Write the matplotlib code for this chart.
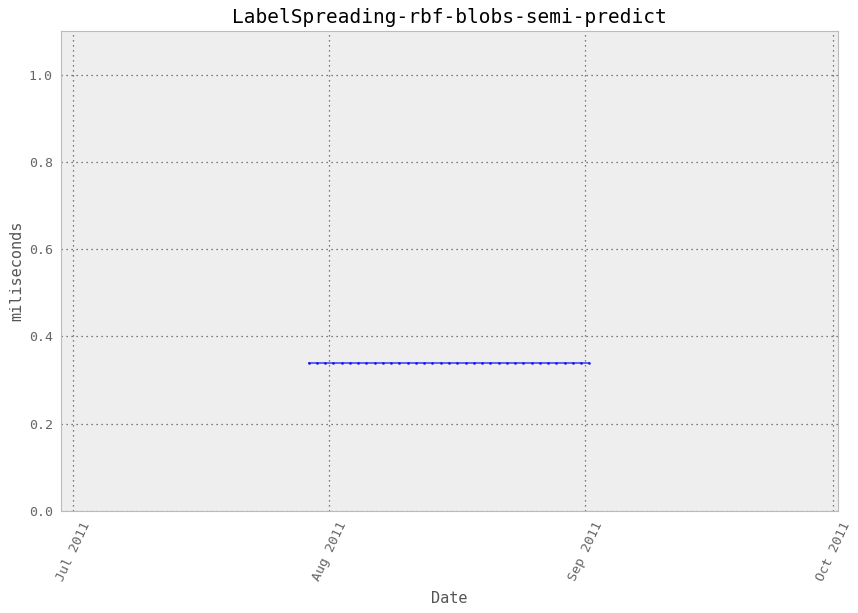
import datetime as dt

import matplotlib
matplotlib.use("Agg")
import matplotlib.pyplot as plt
import matplotlib.dates as mdates

# data: one timing per day
start_day = dt.datetime(2011, 7, 29, 12)
n_days = 35
dates = [start_day + dt.timedelta(days=i) for i in range(n_days)]
timings = [0.34, 0.34, 0.34, 0.34, 0.34, 0.34, 0.34, 0.34, 0.34, 0.34,
           0.34, 0.34, 0.34, 0.34, 0.34, 0.34, 0.34, 0.34, 0.34, 0.34,
           0.34, 0.34, 0.34, 0.34, 0.34, 0.34, 0.34, 0.34, 0.34, 0.34,
           0.34, 0.34, 0.34, 0.34, 0.34]

title = "LabelSpreading-rbf-blobs-semi-predict"

plt.rcParams["font.family"] = ["DejaVu Sans Mono"]

fig = plt.figure(figsize=(8.58, 6.13), dpi=100)
ax = fig.add_axes([61 / 858, 1 - 511 / 613, 777 / 858, 480 / 613])
ax.set_facecolor("#eeeeee")

ax.plot(dates, timings, color="blue", linewidth=1.2, marker=".",
        markersize=2, alpha=0.7)

ax.set_ylim(0, 1.1)
ax.set_xlim(dt.datetime(2011, 6, 29, 13), dt.datetime(2011, 10, 1, 14))
ax.xaxis.set_major_locator(mdates.MonthLocator())
ax.xaxis.set_major_formatter(mdates.DateFormatter("%b %Y"))
ax.set_yticks([0.0, 0.2, 0.4, 0.6, 0.8, 1.0])

ax.grid(True, color="#555555", linestyle=(0, (1, 3)), linewidth=0.9)
ax.set_axisbelow(True)
for s in ax.spines.values():
    s.set_color("#bbbbbb")
ax.tick_params(length=0, labelsize=9.5, colors="#666666", pad=6)
plt.setp(ax.get_xticklabels(), rotation=65)

ax.set_title(title, fontsize=14, pad=6)
ax.set_xlabel("Date", fontsize=11, color="#555555", labelpad=6)
ax.set_ylabel("miliseconds", fontsize=11, color="#555555", labelpad=3)

fig.savefig("out.png", dpi=100)
